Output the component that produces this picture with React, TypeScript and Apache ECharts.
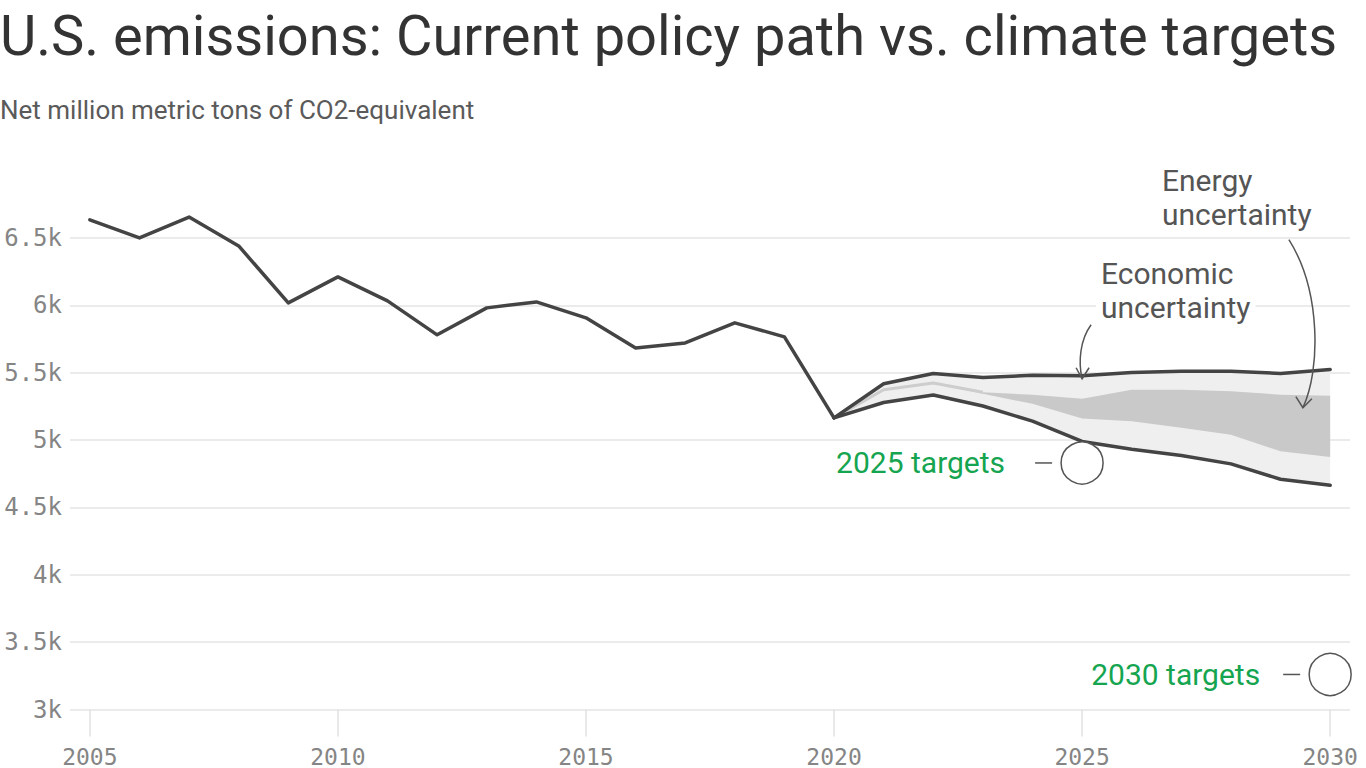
import React, { useEffect, useRef } from "react";
import * as echarts from "echarts";

const TITLE = "U.S. emissions: Current policy path vs. climate targets";
const SUBTITLE = "Net million metric tons of CO2-equivalent";

const histYears = [2005, 2006, 2007, 2008, 2009, 2010, 2011, 2012, 2013, 2014, 2015, 2016, 2017, 2018, 2019, 2020];
const histValues = [6635, 6500, 6655, 6441, 6018, 6211, 6033, 5781, 5981, 6025, 5907, 5684, 5721, 5870, 5766, 5165];

const projYears = [2020, 2021, 2022, 2023, 2024, 2025, 2026, 2027, 2028, 2029, 2030];
const upperValues = [5165, 5418, 5494, 5464, 5481, 5477, 5502, 5511, 5511, 5494, 5524];
const lowerValues = [5165, 5279, 5334, 5253, 5140, 4990, 4932, 4886, 4823, 4709, 4665];

const innerYears = [2022, 2023, 2024, 2025, 2026, 2027, 2028, 2029, 2030];
const innerTop = [5423, 5355, 5336, 5306, 5373, 5373, 5362, 5337, 5328];
const innerBottom = [5423, 5343, 5269, 5160, 5140, 5091, 5039, 4917, 4874];

const medianYears = [2020, 2021, 2022, 2023];
const medianValues = [5165, 5373, 5423, 5355];

const targetYears = [2025, 2030];
const targetValues = [4830, 3260];
const targetLabels = ["2025 targets", "2030 targets"];

const xTickYears = [2005, 2010, 2015, 2020, 2025, 2030];

const econLines = ["Economic", "uncertainty"];
const energyLines = ["Energy", "uncertainty"];
const econLabelAt = [2025.38, 6233];
const energyLabelAt = [2026.61, 6930];
const econArrowTip = [2025, 5455];
const energyArrowTip = [2029.45, 5240];

const SANS = "Roboto, 'Noto Sans', sans-serif";
const MONO = "'DejaVu Sans Mono', monospace";
const DARK = "#444444";
const GREEN = "#15a550";

export default function App() {
  const ref = useRef<HTMLDivElement>(null);

  useEffect(() => {
    if (!ref.current) return;
    const chart = echarts.init(ref.current, null, { renderer: "svg" });

    const pairs = (xs: number[], ys: number[]) => xs.map((x, i) => [x, ys[i]]);
    const lineBase = {
      type: "line",
      symbol: "none",
      silent: true,
      smooth: false,
    };

    const bandSeries = (xs: number[], lows: number[], highs: number[], fill: string, z: number) => ({
      type: "custom",
      silent: true,
      z,
      clip: true,
      data: [[xs[0], lows[0]]],
      renderItem: (_params: any, api: any) => {
        const top = xs.map((x, i) => api.coord([x, highs[i]]));
        const bot = xs.map((x, i) => api.coord([x, lows[i]])).reverse();
        return {
          type: "polygon",
          shape: { points: top.concat(bot) },
          style: { fill, stroke: null },
        };
      },
    });

    const option: any = {
      animation: false,
      backgroundColor: "#ffffff",
      title: [
        {
          text: TITLE,
          left: 0,
          top: 4,
          padding: 0,
          textStyle: { fontFamily: SANS, fontSize: 56, lineHeight: 64, fontWeight: 400, color: "#333333" },
        },
        {
          text: SUBTITLE,
          left: 0,
          top: 96,
          padding: 0,
          textStyle: { fontFamily: SANS, fontSize: 26, lineHeight: 28, fontWeight: 400, color: "#5a5a5a" },
        },
      ],
      grid: { left: 70, right: 16, top: 170.6, bottom: 58, containLabel: false },
      xAxis: {
        type: "value",
        min: 2004.6,
        max: 2030.4,
        splitLine: { show: false },
        axisLine: { show: false },
        axisTick: {
          show: true,
          customValues: xTickYears,
          length: 27,
          lineStyle: { color: "#e2e2e2", width: 1.5 },
        },
        axisLabel: {
          customValues: xTickYears,
          margin: 37,
          fontFamily: MONO,
          fontSize: 23,
          lineHeight: 20,
          color: "#858585",
          formatter: (v: number) => String(v),
        },
      },
      yAxis: {
        type: "value",
        min: 3000,
        max: 7000,
        interval: 500,
        axisLine: { show: false },
        axisTick: { show: false },
        splitLine: { show: true, showMaxLine: false, lineStyle: { color: "#e4e4e4", width: 1.5 } },
        axisLabel: {
          showMaxLabel: false,
          margin: 8,
          fontFamily: MONO,
          fontSize: 24,
          color: "#858585",
          formatter: (v: number) => v / 1000 + "k",
        },
      },
      series: [
        bandSeries(projYears, lowerValues, upperValues, "#efefef", 1),
        bandSeries(innerYears, innerBottom, innerTop, "#c9c9c9", 2),
        {
          ...lineBase,
          name: "median",
          data: pairs(medianYears, medianValues),
          lineStyle: { color: "#cdcdcd", width: 3 },
          z: 3,
        },
        {
          ...lineBase,
          name: "historical",
          data: pairs(histYears, histValues),
          lineStyle: { color: DARK, width: 3.5, join: "round", cap: "round" },
          z: 5,
        },
        {
          ...lineBase,
          name: "upper",
          data: pairs(projYears, upperValues),
          lineStyle: { color: DARK, width: 3.5, join: "round", cap: "round" },
          z: 5,
        },
        {
          ...lineBase,
          name: "lower",
          data: pairs(projYears, lowerValues),
          lineStyle: { color: DARK, width: 3.5, join: "round", cap: "round" },
          z: 5,
        },
        {
          type: "scatter",
          name: "targets",
          silent: true,
          symbol: "circle",
          symbolSize: 42,
          data: pairs(targetYears, targetValues),
          itemStyle: { color: "#ffffff", borderColor: "#555555", borderWidth: 1.5, opacity: 1 },
          z: 6,
        },
      ],
    };

    chart.setOption(option);

    const px = (p: number[]) => chart.convertToPixel({ gridIndex: 0 }, p) as number[];
    const graphics: any[] = [];

    const addLabel = (lines: string[], at: number[]) => {
      const [x, y] = px(at);
      lines.forEach((t, i) => {
        graphics.push({
          type: "text",
          x: x - 5,
          y: y + i * 34,
          z: 20,
          style: {
            text: t,
            fontFamily: SANS,
            fontSize: 30,
            fill: "#555555",
            align: "left",
            verticalAlign: "middle",
            backgroundColor: "#ffffff",
            padding: [1, 5],
          },
        });
      });
    };
    addLabel(econLines, econLabelAt);
    addLabel(energyLines, energyLabelAt);

    const addArrow = (tip: number[], curve: number[][], wings: number[][]) => {
      const [tx, ty] = px(tip);
      const pts = curve.map(([dx, dy]) => [tx + dx, ty + dy]);
      graphics.push({
        type: "bezierCurve",
        z: 21,
        shape: {
          x1: pts[0][0], y1: pts[0][1],
          cpx1: pts[1][0], cpy1: pts[1][1],
          cpx2: pts[2][0], cpy2: pts[2][1],
          x2: tx, y2: ty,
        },
        style: { stroke: "#555555", lineWidth: 1.5, fill: null },
      });
      graphics.push({
        type: "polyline",
        z: 21,
        shape: { points: [[tx + wings[0][0], ty + wings[0][1]], [tx, ty], [tx + wings[1][0], ty + wings[1][1]]] },
        style: { stroke: "#555555", lineWidth: 1.5, fill: null },
      });
    };
    addArrow(econArrowTip, [[9, -54], [-2, -39], [-4, -17]], [[-6, -11], [7, -11]]);
    addArrow(energyArrowTip, [[-14, -168], [18, -118], [18, -38]], [[-7, -11], [9, -9]]);

    targetYears.forEach((yr, i) => {
      const [cx, cy] = px([yr, targetValues[i]]);
      const textRight = i === 0 ? cx - 77 : cx - 70;
      graphics.push({
        type: "text",
        x: textRight,
        y: cy,
        z: 20,
        style: {
          text: targetLabels[i],
          fontFamily: SANS,
          fontSize: 30,
          fill: GREEN,
          align: "right",
          verticalAlign: "middle",
        },
      });
      graphics.push({
        type: "line",
        z: 20,
        shape: { x1: cx - 47, y1: cy, x2: cx - 30, y2: cy },
        style: { stroke: "#555555", lineWidth: 1.5 },
      });
    });

    chart.setOption({ graphic: graphics });

    return () => chart.dispose();
  }, []);

  return (
    <div
      ref={ref}
      style={{ position: "absolute", left: 0, top: 0, width: 1366, height: 768, background: "#fff" }}
    />
  );
}
